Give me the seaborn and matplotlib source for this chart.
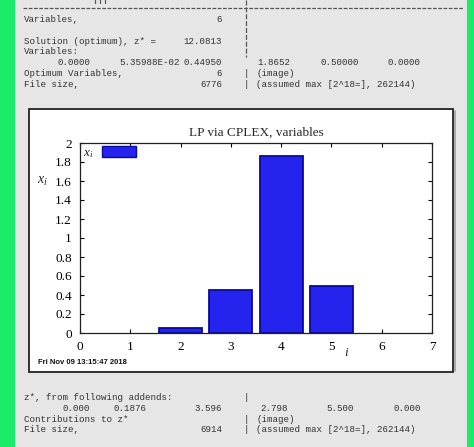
import numpy as np
import matplotlib
matplotlib.use("Agg")
import matplotlib.pyplot as plt
import seaborn as sns
from matplotlib.patches import Rectangle, Patch
from matplotlib.lines import Line2D
from matplotlib.ticker import FormatStrFormatter

# ---- data ----
indices = [1, 2, 3, 4, 5, 6]
x_values = [0.0, 5.35988e-02, 0.44950, 1.8652, 0.50000, 0.0]

title = "LP via CPLEX, variables"
stamp = "Fri Nov 09 13:15:47 2018"

top_vars_left = ["0.0000", "5.35988E-02", "0.44950"]
top_vars_right = ["1.8652", "0.50000", "0.0000"]
addends_left = ["0.000", "0.1876", "3.596"]
addends_right = ["2.798", "5.500", "0.000"]
n_vars = "6"
z_opt = "12.0813"
size_top = "6776"
size_bottom = "6914"
max_size = "(assumed max [2^18=], 262144)"

W, H = 474, 447
BAR_FACE = "#2424ee"
BAR_EDGE = "#0a0a9c"
GREEN = "#1aec6a"
GRAY = "#e6e6e6"
TXT = "#333333"

sns.set_style("ticks")
plt.rcParams["font.family"] = ["Liberation Serif", "DejaVu Serif"]
plt.rcParams["mathtext.fontset"] = "custom"
plt.rcParams["mathtext.rm"] = "Liberation Serif"
plt.rcParams["mathtext.it"] = "Liberation Serif:italic"

fig = plt.figure(figsize=(W / 100, H / 100), dpi=100)
fig.patch.set_facecolor(GREEN)


def fx(px):
    return px / W


def fy(py):
    return 1 - py / H


# gray page between green borders
fig.add_artist(Rectangle((fx(15), 0), fx(467 - 15), 1, transform=fig.transFigure,
                         facecolor=GRAY, edgecolor="none", zorder=0))

# white chart box
fig.add_artist(Rectangle((fx(29), fy(372)), fx(453 - 29), (372 - 109) / H,
                         transform=fig.transFigure, facecolor="white",
                         edgecolor="#222222", linewidth=1.3, zorder=1))
fig.add_artist(Line2D([fx(455), fx(455)], [fy(371), fy(111)], transform=fig.transFigure,
                      color="#a0a0a0", linewidth=1.2, zorder=1))


def put(x, y, s, ha="left"):
    fig.text(fx(x), fy(y), s, ha=ha, va="center", fontsize=6.6, color=TXT,
             family=["Liberation Mono", "DejaVu Sans Mono"])


# ---- top text panel ----
fig.add_artist(Line2D([fx(23), fx(464)], [fy(8), fy(8)], transform=fig.transFigure,
                      color="#555555", linewidth=0.9, dashes=(3, 1.2)))
fig.add_artist(Line2D([fx(246), fx(246)], [fy(0), fy(57)], transform=fig.transFigure,
                      color="#555555", linewidth=0.9, dashes=(4, 1.5)))
for xx in (95, 100, 105):
    fig.add_artist(Line2D([fx(xx), fx(xx)], [fy(0), fy(3)], transform=fig.transFigure,
                          color="#555555", linewidth=0.9))

put(24, 19.5, "Variables,")
put(222, 19.5, n_vars, ha="right")
put(24, 41, "Solution (optimum), z* =")
put(222, 41, z_opt, ha="right")
put(24, 51.5, "Variables:")
for s, xr in zip(top_vars_left, [90, 180, 222]):
    put(xr, 62.5, s, ha="right")
for s, xr in zip(top_vars_right, [290, 359, 421]):
    put(xr, 62.5, s, ha="right")
put(24, 74, "Optimum Variables,")
put(222, 74, n_vars, ha="right")
put(256, 74, "(image)")
put(24, 84.5, "File size,")
put(222, 84.5, size_top, ha="right")
put(256, 84.5, max_size)
for yy in (74, 84.5):
    put(244, yy, "|")

# ---- bottom text panel ----
put(24, 398, "z*, from following addends:")
for s, xr in zip(addends_left, [90, 147, 222]):
    put(xr, 408.5, s, ha="right")
for s, xr in zip(addends_right, [288, 354, 421]):
    put(xr, 408.5, s, ha="right")
put(24, 419, "Contributions to z*")
put(256, 419, "(image)")
put(24, 429, "File size,")
put(222, 429, size_bottom, ha="right")
put(256, 429, max_size)
for yy in (398, 419, 429):
    put(244, yy, "|")

# ---- chart ----
ax = fig.add_axes([fx(80), fy(333), fx(432 - 80), (333 - 143) / H], zorder=2)
sns.barplot(x=indices, y=x_values, native_scale=True, width=0.86, color=BAR_FACE,
            saturation=1, edgecolor=BAR_EDGE, linewidth=1.3, ax=ax)
# gnuplot draws nothing for zero-height boxes
for p in ax.patches:
    if p.get_height() == 0:
        p.set_visible(False)
ax.set_xlim(0, 7)
ax.set_ylim(0, 2)
ax.set_xticks(np.arange(0, 8))
ax.set_yticks(np.arange(0, 2.01, 0.2))
ax.yaxis.set_major_formatter(FormatStrFormatter("%g"))
ax.tick_params(direction="in", length=3, width=0.8, top=True, right=True,
               labelsize=9.5, pad=6, colors="black")
for sp in ax.spines.values():
    sp.set_visible(True)
    sp.set_color("#202020")
    sp.set_linewidth(0.9)

ax.set_title(title, fontsize=9.5, pad=5)
ax.set_xlabel("$i$", fontsize=9.5)
ax.xaxis.set_label_coords((347 - 80) / 352, -0.075)
ax.set_ylabel("$x_i$", fontsize=10, rotation=0, ha="center", va="center")
ax.yaxis.set_label_coords((42 - 80) / 352, (333 - 181) / 190)

ax.legend(handles=[Patch(facecolor=BAR_FACE, edgecolor=BAR_EDGE, linewidth=1.0)],
          labels=["$x_i$"], loc="upper left", markerfirst=False, frameon=False,
          fontsize=9.5, handlelength=2.6, handleheight=0.85, handletextpad=0.6,
          borderaxespad=0.15, borderpad=0.1)

fig.text(fx(38), fy(363), stamp, ha="left", va="center", fontsize=5.5,
         fontweight="bold", family=["Liberation Sans", "DejaVu Sans"], color="#111111")

fig.savefig("out.png", dpi=100)
